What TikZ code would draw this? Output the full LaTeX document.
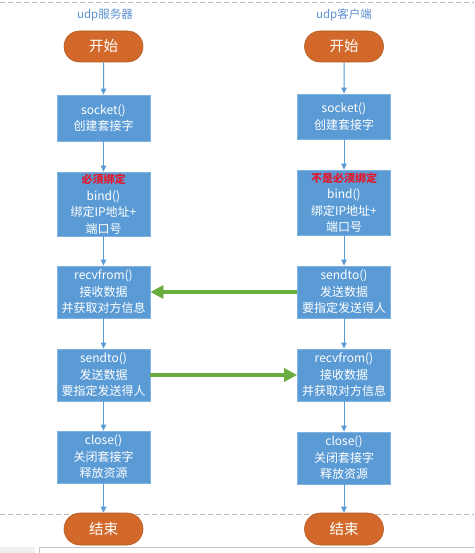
\documentclass[tikz,border=0pt]{standalone}
\usepackage{fontspec}
\setmainfont{Noto Sans CJK SC}
\usetikzlibrary{arrows.meta,shapes.misc}
\definecolor{boxblue}{HTML}{5B9BD5}
\definecolor{boxedge}{HTML}{7FB2E0}
\definecolor{ovalorange}{HTML}{D2692A}
\definecolor{arrowgreen}{HTML}{6AAD3F}
\definecolor{labelblue}{HTML}{5B8FD0}
\definecolor{mustred}{HTML}{E3182D}
\tikzset{
  stepbox/.style={rectangle, fill=boxblue, draw=boxedge, line width=0.8pt, text=white,
    minimum width=93pt, inner sep=0pt, align=center, font=\fontsize{12}{16.5}\selectfont},
  terminal/.style={rounded rectangle, fill=ovalorange, draw=ovalorange!85!black, line width=0.6pt, text=white,
    minimum width=79pt, minimum height=31pt, inner sep=0pt, font=\fontsize{14.5}{16}\selectfont},
  flow/.style={draw=boxblue, line width=1pt, -{Triangle[length=6pt,width=5.5pt]}},
  msg/.style={draw=arrowgreen, line width=4pt, -{Triangle[length=13pt,width=13pt]}},
  lanelabel/.style={text=labelblue, font=\fontsize{11.5}{13}\selectfont},
  pagebreak/.style={draw=gray!55, line width=0.8pt, dash pattern=on 5pt off 3pt}
}
\newcommand{\mustnote}[1]{{\color{mustred}\fontsize{11}{16.5}\selectfont\bfseries #1}}
\begin{document}
\begin{tikzpicture}[x=1pt,y=-1pt]
\useasboundingbox (0,0) rectangle (474,553);
\fill[white] (0,0) rectangle (474,553);
% page-break dashed lines
\coordinate (tl) at (0,2); \coordinate (tr) at (474,2);
\coordinate (bl) at (0,514); \coordinate (br) at (474,514);
\draw[pagebreak] (tl) -- (tr);
\draw[pagebreak] (bl) -- (br);
% bottom window artefact
\fill[gray!12] (0,547) rectangle (35,553);
\coordinate (fa) at (39,553); \coordinate (fb) at (39,547); \coordinate (fc) at (474,547);
\draw[gray!45, line width=0.8pt] (fa) -- (fb) -- (fc);

% lane labels
\node[lanelabel] (lsrv) at (105,15) {udp服务器};
\node[lanelabel] (lcli) at (344,15) {udp客户端};

% server column
\node[terminal] (s0) at (103.5,46.5) {开始};
\node[stepbox, minimum height=46pt] (s1) at (103.5,118) {socket()\\创建套接字};
\node[stepbox, minimum height=64pt] (s2) at (103.5,204) {\mustnote{必须绑定}\\bind()\\绑定IP地址+\\端口号};
\node[stepbox, minimum height=52pt] (s3) at (103.5,292) {recvfrom()\\接收数据\\并获取对方信息};
\node[stepbox, minimum height=52pt] (s4) at (103.5,375) {sendto()\\发送数据\\要指定发送得人};
\node[stepbox, minimum height=52pt] (s5) at (103.5,457) {close()\\关闭套接字\\释放资源};
\node[terminal, minimum height=32pt] (s6) at (103.5,529) {结束};

% client column
\node[terminal] (c0) at (344,46.5) {开始};
\node[stepbox, minimum height=45pt] (c1) at (344,116.5) {socket()\\创建套接字};
\node[stepbox, minimum height=65pt] (c2) at (344,202.5) {\mustnote{不是必须绑定}\\bind()\\绑定IP地址+\\端口号};
\node[stepbox, minimum height=52pt] (c3) at (344,292) {sendto()\\发送数据\\要指定发送得人};
\node[stepbox, minimum height=52pt] (c4) at (344,375) {recvfrom()\\接收数据\\并获取对方信息};
\node[stepbox, minimum height=52pt] (c5) at (344,458) {close()\\关闭套接字\\释放资源};
\node[terminal, minimum height=32pt] (c6) at (344,529) {结束};

% flow arrows
\foreach \a/\b in {s0/s1,s1/s2,s2/s3,s3/s4,s4/s5,s5/s6,c0/c1,c1/c2,c2/c3,c3/c4,c4/c5,c5/c6}
  \draw[flow] (\a) -- (\b);

% message arrows
\draw[msg] (c3.west) -- (s3.east);
\draw[msg] (s4.east) -- (c4.west);
\end{tikzpicture}
\end{document}
